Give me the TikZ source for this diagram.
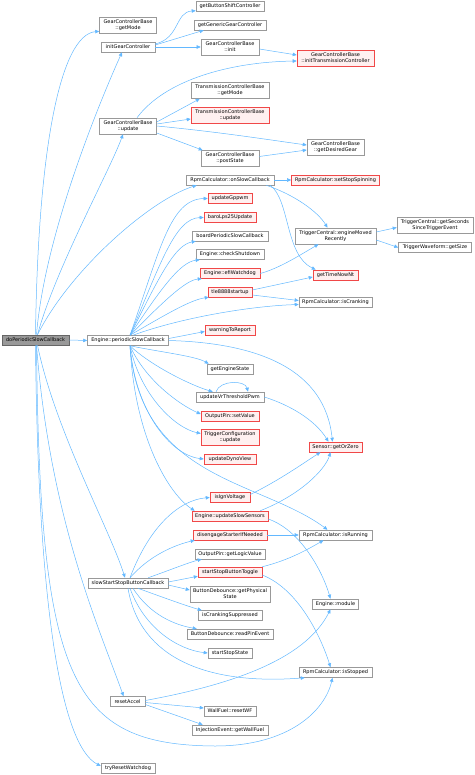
\documentclass[tikz,border=0pt]{standalone}
\usepackage{fontspec}
\setmainfont{DejaVu Sans}
\usetikzlibrary{arrows.meta,calc}
\definecolor{edgeblue}{HTML}{63B8FF}
\definecolor{nodegray}{HTML}{999999}
\definecolor{rootborder}{HTML}{666666}
\definecolor{redfill}{HTML}{FFF0F0}
\definecolor{redborder}{HTML}{F04848}
\tikzset{
  fn/.style={draw=nodegray, fill=white, line width=0.55pt, rectangle, inner sep=0pt,
    minimum height=10pt, align=center, font=\fontsize{5}{6}\selectfont},
  tall/.style={minimum height=16pt},
  redfn/.style={fn, draw=redborder, fill=redfill},
  rootfn/.style={fn, draw=rootborder, fill=nodegray},
  edge/.style={draw=edgeblue, line width=0.5pt, -{Triangle[length=4pt,width=3.5pt]}}
}
\begin{document}
\begin{tikzpicture}[x=1pt,y=-1pt]
\useasboundingbox (0,0) rectangle (474,775);
% column 0
\node[rootfn, minimum width=67pt] (d) at (35.5,340) {doPeriodicSlowCallback};
% column 1
\node[fn, tall, minimum width=57pt] (gmode) at (128,25) {GearControllerBase\\::getMode};
\node[fn, minimum width=54pt] (igc) at (128,47) {initGearController};
\node[fn, tall, minimum width=57pt] (gupd) at (128,126) {GearControllerBase\\::update};
\node[fn, minimum width=81pt] (eps) at (128,340.5) {Engine::periodicSlowCallback};
\node[fn, minimum width=80pt] (ssb) at (128,583) {slowStartStopButtonCallback};
\node[fn, minimum width=35pt] (racc) at (127.5,701.5) {resetAccel};
\node[fn, minimum width=54pt] (trw) at (128,768) {tryResetWatchdog};
% column 2
\node[fn, minimum width=68pt] (gbsc) at (230,6.5) {getButtonShiftController};
\node[fn, minimum width=72pt] (ggc) at (230,25) {getGenericGearController};
\node[fn, tall, minimum width=58pt] (ginit) at (230,47) {GearControllerBase\\::init};
\node[fn, tall, minimum width=78pt] (tgm) at (230,90.5) {TransmissionControllerBase\\::getMode};
\node[redfn, tall, minimum width=78pt] (tupd) at (230,115) {TransmissionControllerBase\\::update};
\node[fn, tall, minimum width=58pt] (gps) at (230,158.5) {GearControllerBase\\::postState};
\node[fn, minimum width=88pt] (rosc) at (230,180) {RpmCalculator::onSlowCallback};
\node[redfn, minimum width=44pt] (gpp) at (230,198.5) {updateGppwm};
\node[redfn, minimum width=52pt] (baro) at (230,217.5) {baroLps25Update};
\node[fn, minimum width=76pt] (bpsc) at (230,236) {boardPeriodicSlowCallback};
\node[fn, minimum width=68pt] (ecs) at (230,254.5) {Engine::checkShutdown};
\node[redfn, minimum width=60pt] (ewd) at (230,273.5) {Engine::efiWatchdog};
\node[redfn, minimum width=44pt] (tle) at (230,292) {tle8888startup};
\node[redfn, minimum width=50pt] (wtr) at (230,330.5) {warningToReport};
\node[fn, minimum width=46pt] (ges) at (230,369) {getEngineState};
\node[fn, minimum width=68pt] (uvr) at (230,397) {updateVrThresholdPwm};
\node[redfn, minimum width=58pt] (opsv) at (230,416) {OutputPin::setValue};
\node[redfn, tall, minimum width=58pt] (tcu) at (230,437.5) {TriggerConfiguration\\::update};
\node[redfn, minimum width=52pt] (udv) at (230,459) {updateDynoView};
\node[redfn, minimum width=40pt] (iiv) at (230,497.5) {isIgnVoltage};
\node[redfn, minimum width=76pt] (eus) at (230,516) {Engine::updateSlowSensors};
\node[redfn, minimum width=74pt] (dsi) at (230,535) {disengageStarterIfNeeded};
\node[fn, minimum width=70pt] (oglv) at (230,554) {OutputPin::getLogicValue};
\node[redfn, minimum width=64pt] (ssbt) at (230,572) {startStopButtonToggle};
\node[fn, tall, minimum width=80pt] (bdgp) at (230,594) {ButtonDebounce::getPhysical\\State};
\node[fn, minimum width=64pt] (ics) at (230,615.5) {isCrankingSuppressed};
\node[fn, minimum width=86pt] (bdrp) at (230,634) {ButtonDebounce::readPinEvent};
\node[fn, minimum width=44pt] (sss) at (230,653) {startStopState};
\node[fn, minimum width=52pt] (wfr) at (230,711) {WallFuel::resetWF};
\node[fn, minimum width=76pt] (iegw) at (230,730) {InjectionEvent::getWallFuel};
% column 3
\node[redfn, tall, minimum width=77pt] (gitc) at (335.5,58) {GearControllerBase\\::initTransmissionController};
\node[fn, tall, minimum width=57pt] (gdg) at (335.5,147) {GearControllerBase\\::getDesiredGear};
\node[redfn, minimum width=88pt] (rss) at (335.5,180) {RpmCalculator::setStopSpinning};
\node[fn, tall, minimum width=81pt] (temr) at (335.5,236) {TriggerCentral::engineMoved\\Recently};
\node[redfn, minimum width=45pt] (gtn) at (335.5,275) {getTimeNowNt};
\node[fn, minimum width=73pt] (rcic) at (335.5,302.5) {RpmCalculator::isCranking};
\node[redfn, minimum width=53pt] (sgoz) at (335.5,447) {Sensor::getOrZero};
\node[fn, minimum width=73pt] (rcir) at (335.5,535) {RpmCalculator::isRunning};
\node[fn, minimum width=46pt] (emod) at (335.5,604) {Engine::module};
\node[fn, minimum width=73pt] (rcis) at (335.5,672.5) {RpmCalculator::isStopped};
% column 4
\node[fn, tall, minimum width=76pt] (tcgs) at (435,225.5) {TriggerCentral::getSeconds\\SinceTriggerEvent};
\node[fn, minimum width=73pt] (twgs) at (435,247.5) {TriggerWaveform::getSize};
\coordinate (dsw) at (215,746);

% edges from doPeriodicSlowCallback
\draw[edge] (d.north) .. controls (38,150) and (60,35) .. ($(gmode.south west)+(0,-2)$);
\draw[edge] ($(d.north)+(1,0)$) .. controls (45,230) and (105,90) .. ($(igc.south)+(-6,0)$);
\draw[edge] ($(d.north)+(2,0)$) .. controls (55,270) and (110,170) .. ($(gupd.south)+(-5,0)$);
\draw[edge] ($(d.north)+(2,0)$) .. controls (70,270) and (150,200) .. ($(rosc.south west)+(11,0)$);
\draw[edge] (d.east) -- (eps.west);
\draw[edge] ($(d.south)+(2,0)$) .. controls (55,430) and (110,530) .. ($(ssb.north)+(-3,0)$);
\draw[edge] ($(d.south)+(1,0)$) .. controls (50,520) and (100,630) .. ($(racc.north)+(-4,0)$);
\draw[edge] (d.south) .. controls (38,600) and (60,745) .. ($(trw.west)+(0,-2)$);
\draw[edge] ($(d.south)+(1,0)$) .. controls (40,680) and (70,745) .. (dsw) .. controls (290,746) and (325,710) .. ($(rcis.south)+(-3,0)$);

% gear controller
\draw[edge] ($(igc.east)+(0,-3)$) .. controls (180,38) and (175,12) .. ($(gbsc.south west)+(0,-1)$);
\draw[edge] ($(igc.east)+(0,-2)$) -- ($(ggc.south west)+(10,0)$);
\draw[edge] (igc.east) -- (ginit.west);
\draw[edge] ($(ginit.east)+(0,2)$) -- ($(gitc.west)+(0,-3)$);
\draw[edge] ($(gupd.north)+(9,0)$) .. controls (165,80) and (230,62) .. ($(gitc.west)+(0,3)$);
\draw[edge] ($(gupd.east)+(0,-4)$) -- ($(tgm.south west)+(9,0)$);
\draw[edge] ($(gupd.east)+(0,-2)$) -- ($(tupd.west)+(0,4)$);
\draw[edge] (gupd.east) .. controls (220,132) and (270,140) .. ($(gdg.west)+(0,-2)$);
\draw[edge] ($(gupd.east)+(0,7)$) -- ($(gps.north west)+(2,0)$);
\draw[edge] ($(gps.east)+(0,-2)$) -- ($(gdg.west)+(0,3)$);

% rpm calculator
\draw[edge] (rosc.east) -- (rss.west);
\draw[edge] ($(rosc.south east)+(-8,0)$) .. controls (295,195) and (318,212) .. ($(temr.north)+(-8,0)$);
\draw[edge] ($(rosc.south east)+(-4,0)$) .. controls (290,200) and (285,255) .. ($(gtn.north west)+(3,0)$);
\draw[edge] ($(temr.east)+(0,-4)$) -- ($(tcgs.west)+(0,2)$);
\draw[edge] ($(temr.east)+(0,4)$) -- (twgs.west);

% Engine::periodicSlowCallback fan
\draw[edge] ($(eps.north)+(2,0)$) .. controls (160,250) and (170,199) .. (gpp.west);
\draw[edge] ($(eps.north)+(2,0)$) .. controls (160,265) and (175,218) .. (baro.west);
\draw[edge] ($(eps.north)+(2,0)$) .. controls (160,275) and (175,245) .. ($(bpsc.south west)+(4,0)$);
\draw[edge] ($(eps.north)+(2,0)$) .. controls (160,290) and (180,262) .. ($(ecs.south west)+(4,0)$);
\draw[edge] ($(eps.north)+(2,0)$) .. controls (160,305) and (185,280) .. ($(ewd.south west)+(2,0)$);
\draw[edge] ($(eps.north)+(2,0)$) .. controls (165,315) and (190,300) .. ($(tle.south west)+(1,0)$);
\draw[edge] ($(eps.north)+(5,0)$) .. controls (180,318) and (250,306) .. ($(rcic.west)+(0,2)$);
\draw[edge] ($(eps.east)+(0,-2)$) -- ($(wtr.west)+(0,1)$);
\draw[edge] (eps.east) .. controls (260,343) and (325,370) .. ($(sgoz.north)+(-3,0)$);
\draw[edge] ($(eps.south)+(2,0)$) .. controls (160,352) and (195,356) .. ($(ges.north west)+(2,0)$);
\draw[edge] ($(eps.south)+(2,0)$) .. controls (150,365) and (190,385) .. ($(uvr.north west)+(17,0)$);
\draw[edge] ($(eps.south)+(2,0)$) .. controls (145,380) and (180,405) .. ($(opsv.west)+(0,-2)$);
\draw[edge] ($(eps.south)+(2,0)$) .. controls (140,395) and (175,428) .. ($(tcu.west)+(0,-4)$);
\draw[edge] ($(eps.south)+(2,0)$) .. controls (135,410) and (170,455) .. (udv.west);
\draw[edge] ($(eps.south)+(2,0)$) .. controls (140,480) and (260,480) .. ($(rcir.north)+(-8,0)$);
\draw[edge] ($(eps.south)+(2,0)$) .. controls (135,440) and (170,495) .. ($(eus.north west)+(3,0)$);

\draw[edge] (ewd.east) .. controls (280,268) and (300,255) .. ($(temr.south)+(-17,0)$);
\draw[edge] ($(tle.east)+(0,-2)$) -- ($(gtn.west)+(0,2)$);
\draw[edge] ($(tle.east)+(0,3)$) -- ($(rcic.west)+(0,-2)$);
\draw[edge] ($(uvr.north)+(-14,0)$) .. controls (220,380) and (245,380) .. ($(uvr.north)+(18,0)$);
\draw[edge] (uvr.east) .. controls (290,405) and (315,420) .. ($(sgoz.north)+(-7,0)$);
\draw[edge] ($(iiv.east)+(0,-3)$) .. controls (280,480) and (305,462) .. ($(sgoz.south)+(-15,0)$);
\draw[edge] ($(eus.north east)+(-8,0)$) .. controls (300,495) and (325,470) .. ($(sgoz.south)+(-5,0)$);
\draw[edge] ($(eus.east)+(0,3)$) .. controls (300,530) and (322,570) .. ($(emod.north)+(-5,0)$);
\draw[edge] (dsi.east) -- (rcir.west);
\draw[edge] (ssbt.north east) .. controls (290,560) and (310,548) .. ($(rcir.south)+(-12,0)$);
\draw[edge] ($(ssbt.east)+(0,3)$) .. controls (300,590) and (322,640) .. ($(rcis.north)+(-5,0)$);

% slowStartStopButtonCallback fan
\draw[edge] ($(ssb.north)+(2,0)$) .. controls (150,525) and (180,500) .. (iiv.west);
\draw[edge] ($(ssb.north)+(2,0)$) .. controls (150,555) and (175,545) .. ($(dsi.south west)+(2,0)$);
\draw[edge] ($(ssb.north east)+(-20,0)$) .. controls (170,570) and (190,562) .. ($(oglv.south west)+(7,0)$);
\draw[edge] ($(ssb.east)+(0,-1)$) -- ($(ssbt.south west)+(0,-1)$);
\draw[edge] ($(ssb.east)+(0,2)$) -- ($(bdgp.west)+(0,-4)$);
\draw[edge] ($(ssb.south)+(10,0)$) .. controls (170,600) and (190,607) .. ($(ics.north west)+(4,0)$);
\draw[edge] ($(ssb.south)+(5,0)$) .. controls (150,615) and (175,625) .. ($(bdrp.north west)+(10,0)$);
\draw[edge] ($(ssb.south)+(2,0)$) .. controls (145,630) and (180,650) .. (sss.west);
\draw[edge] (ssb.south) .. controls (140,660) and (210,685) .. ($(rcis.south west)+(6,0)$);

% resetAccel
\draw[edge] ($(racc.east)+(0,1)$) -- ($(wfr.west)+(0,-3)$);
\draw[edge] ($(racc.east)+(0,3)$) -- ($(iegw.north west)+(11,0)$);
\draw[edge] ($(racc.east)+(0,-1)$) .. controls (230,685) and (305,660) .. ($(emod.south)+(-5,0)$);
\end{tikzpicture}
\end{document}
